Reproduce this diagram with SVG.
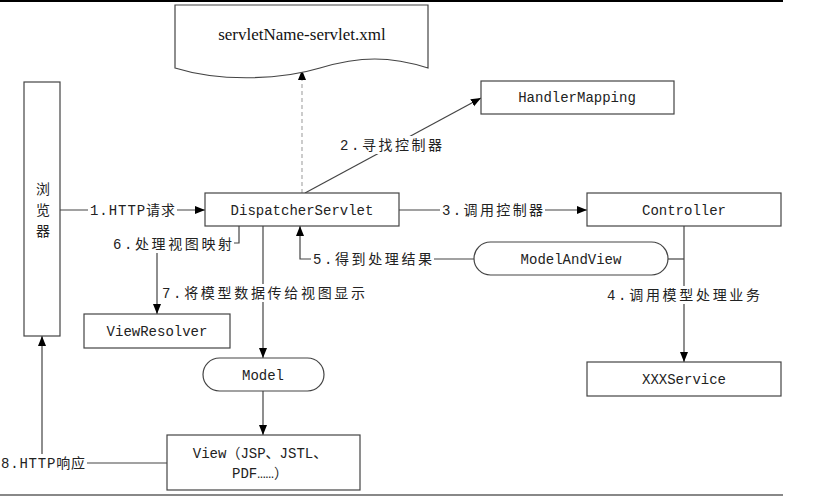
<svg xmlns="http://www.w3.org/2000/svg" width="817" height="500" viewBox="0 0 817 500">
<style>
.box{fill:#fff;stroke:#444;stroke-width:1.2}
.t{font-family:'Liberation Mono','Noto Sans CJK SC',monospace;font-size:14px;fill:#222;text-anchor:middle}
.lbl{font-family:'Liberation Mono','Noto Sans CJK SC',monospace;font-size:14px;fill:#222}
.bg{fill:#fff}
.c{fill:none;stroke:#444;stroke-width:1.2}
</style>
<defs>
<marker id="arr" viewBox="0 0 10 10" refX="10" refY="5" markerWidth="10" markerHeight="10" markerUnits="userSpaceOnUse" orient="auto"><path d="M0,1 L10,5 L0,9 z" fill="#000"/></marker>
</defs>
<rect width="817" height="500" fill="#fff"/>
<line x1="0" y1="1" x2="783" y2="1" stroke="#000" stroke-width="2"/>
<line x1="0" y1="495" x2="783" y2="495" stroke="#888" stroke-width="2"/>

<g id="connectors">
<path class="c" d="M60,210 H205" marker-end="url(#arr)"/>
<path d="M302,193 V70" fill="none" stroke="#aaa" stroke-width="1.2" stroke-dasharray="4,3" marker-end="url(#arr)"/>
<path class="c" d="M305,193 L481,98" marker-end="url(#arr)"/>
<path class="c" d="M399,210 H587" marker-end="url(#arr)"/>
<path class="c" d="M684,226 V362" marker-end="url(#arr)"/>
<path class="c" d="M668,259 H684"/>
<path class="c" d="M474,259 H300 V226" marker-end="url(#arr)"/>
<path class="c" d="M239,226 V243 H157 V314" marker-end="url(#arr)"/>
<path class="c" d="M263,226 V358" marker-end="url(#arr)"/>
<path class="c" d="M263,391 V435" marker-end="url(#arr)"/>
<path class="c" d="M167,463 H42 V336" marker-end="url(#arr)"/>

<rect class="bg" x="88" y="201" width="89" height="18"/>
<text class="lbl" x="90" y="215" textLength="85" lengthAdjust="spacing">1.HTTP请求</text>
<rect class="bg" x="338" y="136" width="106" height="18"/>
<text class="lbl" x="340" y="150" textLength="102" lengthAdjust="spacing">2.寻找控制器</text>
<rect class="bg" x="440" y="201" width="105" height="18"/>
<text class="lbl" x="442" y="215" textLength="101" lengthAdjust="spacing">3.调用控制器</text>
<rect class="bg" x="605" y="286" width="157" height="18"/>
<text class="lbl" x="607" y="300" textLength="153" lengthAdjust="spacing">4.调用模型处理业务</text>
<rect class="bg" x="311" y="250" width="123" height="18"/>
<text class="lbl" x="313" y="264" textLength="119" lengthAdjust="spacing">5.得到处理结果</text>
<rect class="bg" x="111" y="235" width="123" height="18"/>
<text class="lbl" x="113" y="249" textLength="119" lengthAdjust="spacing">6.处理视图映射</text>
<rect class="bg" x="160" y="284" width="207" height="18"/>
<text class="lbl" x="162" y="298" textLength="203" lengthAdjust="spacing">7.将模型数据传给视图显示</text>
<rect class="bg" x="0" y="454" width="87" height="18"/>
<text class="lbl" x="1" y="468" textLength="84" lengthAdjust="spacing">8.HTTP响应</text>
</g>

<g id="config">
<path class="box" d="M175,5 H428 V68 C390,56 360,56 320,68 C280,80 220,82 175,68 Z"/>
<text x="302" y="40" font-family="'Liberation Serif',serif" font-size="17" fill="#111" text-anchor="middle">servletName-servlet.xml</text>
</g>
<g id="browser">
<rect class="box" x="24" y="82" width="36" height="254"/>
<text class="t" x="43" y="194" font-size="16">浏</text>
<text class="t" x="43" y="215" font-size="16">览</text>
<text class="t" x="43" y="236" font-size="16">器</text>
</g>
<g id="dispatcher">
<rect class="box" x="205" y="193" width="194" height="33"/>
<text class="t" x="302" y="215">DispatcherServlet</text>
</g>
<g id="handlermapping">
<rect class="box" x="481" y="81" width="193" height="33"/>
<text class="t" x="577" y="102">HandlerMapping</text>
</g>
<g id="controller">
<rect class="box" x="587" y="193" width="194" height="33"/>
<text class="t" x="684" y="215">Controller</text>
</g>
<g id="modelandview">
<rect class="box" x="474" y="242" width="194" height="33" rx="16.5" ry="16.5"/>
<text class="t" x="571" y="264">ModelAndView</text>
</g>
<g id="service">
<rect class="box" x="587" y="362" width="194" height="34"/>
<text class="t" x="684" y="384">XXXService</text>
</g>
<g id="viewresolver">
<rect class="box" x="84" y="314" width="146" height="34"/>
<text class="t" x="157" y="336">ViewResolver</text>
</g>
<g id="model">
<rect class="box" x="203" y="358" width="121" height="33" rx="16.5" ry="16.5"/>
<text class="t" x="263" y="380">Model</text>
</g>
<g id="view">
<rect class="box" x="167" y="435" width="193" height="55"/>
<text class="t" x="260" y="458">View（JSP、JSTL、</text>
<text class="t" x="260" y="478">PDF……）</text>
</g>
</svg>
